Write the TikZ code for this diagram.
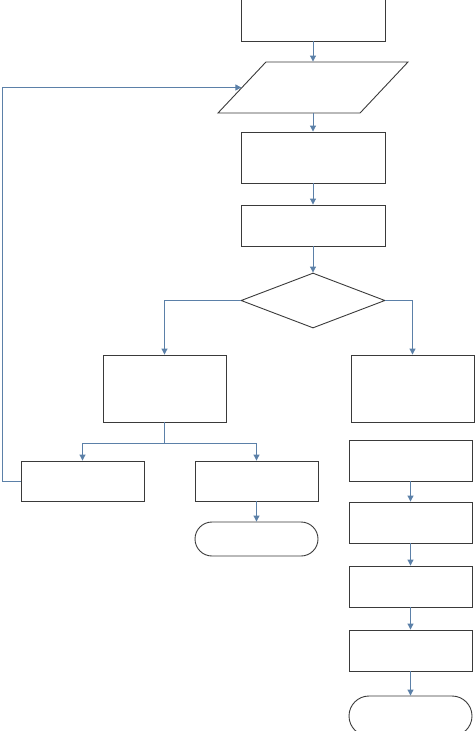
\documentclass[tikz,border=0pt]{standalone}
\usepackage{tikz}
\usetikzlibrary{positioning, shapes.geometric, shapes.misc, arrows.meta}

\definecolor{edgegray}{HTML}{3A3A3A}
\definecolor{linkblue}{HTML}{5B80A8}

\begin{document}
\begin{tikzpicture}[x=1pt, y=-1pt,
    box/.style={rectangle, draw=edgegray, line width=0.9pt, inner sep=0pt, minimum width=123pt},
    wide/.style={box, minimum width=144pt},
    io/.style={trapezium, trapezium left angle=63, trapezium right angle=117, trapezium stretches=true, draw=edgegray, line width=0.9pt, inner sep=2pt, minimum width=190pt, minimum height=51pt},
    test/.style={diamond, draw=edgegray, line width=0.9pt, inner sep=0pt, minimum width=144pt, minimum height=55pt},
    stop/.style={rounded rectangle, draw=edgegray, line width=0.9pt, inner sep=0pt, minimum width=123pt},
    link/.style={draw=linkblue, line width=1pt, -{Triangle[width=6pt, length=6pt]}}]
            \useasboundingbox (0,0) rectangle (474,731);

            % main column
            \node[wide, minimum height=47pt] (start) at (313, 17.5) {};
            \node[io] (input) at (313, 87.5) {};
            \node[wide, minimum height=51pt] (prep) at (313, 157.5) {};
            \node[wide, minimum height=41pt] (calc) at (313, 225.5) {};
            \node[test] (check) at (313, 300.5) {};

            % left branch
            \node[box, minimum height=67pt] (left) at (164.5, 388.5) {};
            \node[box, minimum height=40pt] (retry) at (82.5, 481) {};
            \node[box, minimum height=40pt] (done) at (256.5, 481) {};
            \node[stop, minimum height=34pt] (endl) at (256.5, 539) {};

            % right branch
            \node[box, minimum height=67pt] (right) at (412.5, 388.5) {};
            \node[box, minimum height=41pt] (r1) at (410.5, 460.5) {};
            \node[box, minimum height=41pt] (r2) at (410.5, 522.5) {};
            \node[box, minimum height=41pt] (r3) at (410.5, 586.5) {};
            \node[box, minimum height=41pt] (r4) at (410.5, 650.5) {};
            \node[stop, minimum height=40pt] (endr) at (410.5, 716) {};

            \draw[link] (start) -- (input);
            \draw[link] (input) -- (prep);
            \draw[link] (prep) -- (calc);
            \draw[link] (calc) -- (check);
            \draw[link] (check.west) -| (left.north);
            \draw[link] (check.east) -| (right.north);
            \draw[link] (left.south) -- ++(0, 21) -| (retry.north);
            \draw[link] (left.south) -- ++(0, 21) -| (done.north);
            \draw[link] (retry.west) -- ++(-18, 0) |- (input.west);
            \draw[link] (done) -- (endl);
            \draw[link] (r1) -- (r2);
            \draw[link] (r2) -- (r3);
            \draw[link] (r3) -- (r4);
            \draw[link] (r4) -- (endr);
\end{tikzpicture}
\end{document}
